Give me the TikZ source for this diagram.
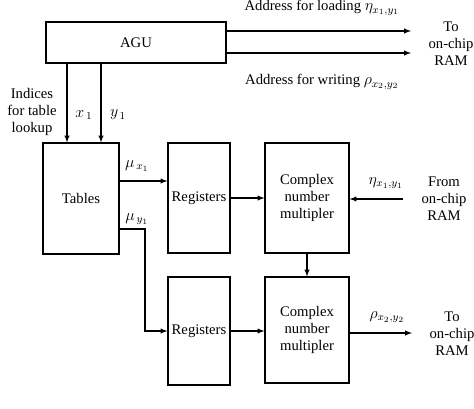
\documentclass[tikz,border=0pt]{standalone}
\usepackage{fontspec}
\setmainfont{Liberation Serif}
\usepackage{tikz}
\usetikzlibrary{arrows}

\tikzset{
  blk/.style={draw,thick,align=center,inner sep=0pt},
  lnk/.style={thick,-latex},
  txt/.style={align=center,inner sep=0pt},
  sym/.style={inner sep=0pt,font=\large}
}

\begin{document}
\begin{tikzpicture}[x=0.75pt,y=-0.75pt,font=\fontsize{11}{12.75}\selectfont]
 \useasboundingbox (0,0) rectangle (474,408);

 % blocks
 \draw (136,42.5) node[blk,minimum width=135pt,minimum height=30.75pt] (agu) {AGU};
 \draw (81,198.5) node[blk,minimum width=57pt,minimum height=83.25pt] (tables) {Tables};
 \draw (199,198) node[blk,minimum width=46.5pt,minimum height=82.5pt] (reg1) {Registers};
 \draw (307,198) node[blk,minimum width=63pt,minimum height=82.5pt] (mult1) {Complex\\number\\multipler};
 \draw (199,331) node[blk,minimum width=46.5pt,minimum height=81pt] (reg2) {Registers};
 \draw (307,330) node[blk,minimum width=63pt,minimum height=79.5pt] (mult2) {Complex\\number\\multipler};

 % free ends
 \coordinate (ldend) at (411,31);
 \coordinate (wrend) at (411,53);
 \coordinate (xcol) at (67,0);
 \coordinate (ycol) at (101,0);
 \coordinate (etain) at (403,199);
 \coordinate (muyx) at (145,229);
 \coordinate (rhoend) at (412,333);

 % texts
 \draw (322,8) node[txt] (loadtxt) {Address for loading {\large$\eta_{x_1,y_1}$}};
 \draw (322,82) node[txt] (writetxt) {Address for writing {\large$\rho_{x_2,y_2}$}};
 \draw (451,44) node[txt] (ram1) {To\\on-chip\\RAM};
 \draw (32,112) node[txt] (indices) {Indices\\for table\\lookup};
 \draw (84,115) node[sym] (xlbl) {$x_{\,1}$};
 \draw (118,115) node[sym] (ylbl) {$y_{\,1}$};
 \draw (137,166) node[sym] (muxlbl) {$\mu_{\,x_1}$};
 \draw (137,219) node[sym] (muylbl) {$\mu_{\,y_1}$};
 \draw (386,183) node[sym] (etalbl) {$\eta_{x_1,y_1}$};
 \draw (444,199) node[txt] (ram2) {From\\on-chip\\RAM};
 \draw (387,317) node[sym] (rholbl) {$\rho_{x_2,y_2}$};
 \draw (452,334) node[txt] (ram3) {To\\on-chip\\RAM};

 % connections
 \draw[lnk] (agu.east |- ldend) -- (ldend);
 \draw[lnk] (agu.east |- wrend) -- (wrend);
 \draw[lnk] (agu.south -| xcol) -- (tables.north -| xcol);
 \draw[lnk] (agu.south -| ycol) -- (tables.north -| ycol);
 \draw[lnk] (tables.east |- 0,181) -- (reg1.west |- 0,181);
 \draw[lnk] (reg1.east) -- (mult1.west);
 \draw[lnk] (etain) -- (mult1.east |- etain);
 \draw[lnk] (tables.east |- muyx) -- (muyx) |- (reg2.west);
 \draw[lnk] (mult1.south) -- (mult2.north);
 \draw[lnk] (reg2.east) -- (mult2.west |- reg2.east);
 \draw[lnk] (mult2.east |- rhoend) -- (rhoend);

\end{tikzpicture}
\end{document}
